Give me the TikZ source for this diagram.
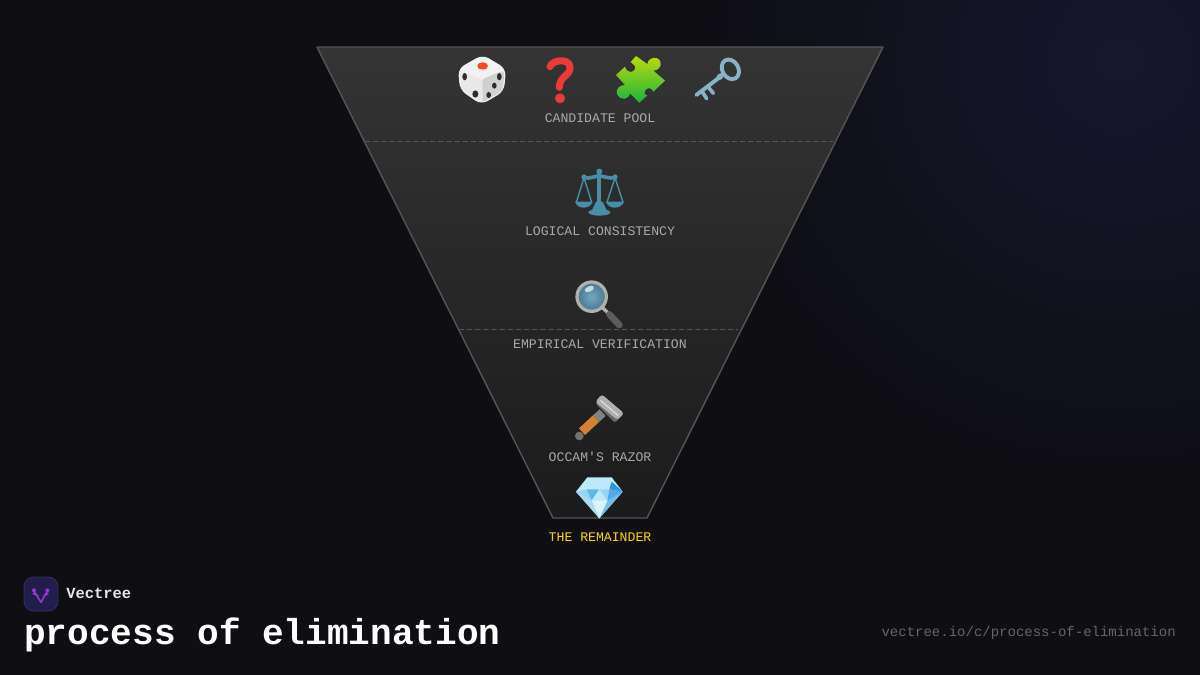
\documentclass[tikz,border=0pt]{standalone}
\usepackage{fontspec}
\setmonofont{Liberation Mono}
\definecolor{FondoPage}{RGB}{14,14,19}
\definecolor{FondoBlue}{RGB}{22,23,46}
\definecolor{FunnelTop}{RGB}{52,52,52}
\definecolor{FunnelBottom}{RGB}{27,27,27}
\definecolor{FunnelEdge}{RGB}{85,85,85}
\definecolor{LabelGray}{RGB}{170,170,170}
\definecolor{LabelGold}{RGB}{255,215,0}
\definecolor{UrlGray}{RGB}{102,102,102}
\definecolor{SteelBlue}{RGB}{72,142,168}
\definecolor{KeyBlue}{RGB}{135,180,196}
\definecolor{RedMark}{RGB}{236,58,56}
\definecolor{PipRed}{RGB}{244,71,30}
\definecolor{PipDark}{RGB}{45,45,45}
\definecolor{PuzzleLime}{RGB}{185,218,15}
\definecolor{PuzzleGreen}{RGB}{30,180,60}
\definecolor{LensBlue}{RGB}{92,152,180}
\definecolor{RimGray}{RGB}{176,176,176}
\definecolor{HandleGray}{RGB}{92,92,92}
\definecolor{WoodOrange}{RGB}{214,128,52}
\definecolor{BladeGray}{RGB}{175,175,175}
\definecolor{GemPale}{RGB}{190,233,251}
\definecolor{GemSky}{RGB}{150,212,246}
\definecolor{GemMid}{RGB}{98,180,238}
\definecolor{GemDeep}{RGB}{42,151,222}
\definecolor{GemIce}{RGB}{216,244,255}
\definecolor{GemAqua}{RGB}{181,236,248}
\definecolor{LogoFill}{RGB}{34,30,76}
\definecolor{LogoEdge}{RGB}{52,47,100}
\definecolor{LogoPurple}{RGB}{150,55,205}
\tikzset{
  steplabel/.style={font=\ttfamily\fontsize{9.35}{11}\selectfont,text=LabelGray,inner sep=0pt},
  sepline/.style={FunnelEdge,line width=0.6pt,dash pattern=on 3.4pt off 2.4pt},
  iconcrop/.style 2 args={shift={(#1,#2)},scale=1/3}
}
\begin{document}
\begin{tikzpicture}[x=0.025cm,y=-0.025cm,line cap=round,line join=round]
  \useasboundingbox (0,0) rectangle (1200,675);
  \clip (0,0) rectangle (1200,675);
  \fill[FondoPage] (0,0) rectangle (1200,675);
  \shade[inner color=FondoBlue,outer color=FondoPage] (1120,60) circle (420);

  \shade[top color=FunnelTop,bottom color=FunnelBottom] (317,47) -- (883,47) -- (647,518) -- (553,518) -- cycle;
  \draw[FunnelEdge,line width=1pt] (317,47) -- (883,47) -- (647,518) -- (553,518) -- cycle;
  \draw[sepline] (365,141) -- (833,141);
  \draw[sepline] (459,329.5) -- (738,329.5);

  \begin{scope}[iconcrop={452}{50}]
    \fill[white!95!black,rounded corners=5pt] (92,14) -- (162,56) -- (156,124) -- (88,164) -- (24,120) -- (18,56) -- cycle;
    \fill[white!82!black,rounded corners=3pt] (88,88) -- (158,60) -- (152,122) -- (88,160) -- cycle;
    \fill[white!91!black,rounded corners=3pt] (92,88) -- (22,60) -- (28,118) -- (92,160) -- cycle;
    \fill[PipRed] (92,48) ellipse (16 and 11);
    \fill[PipDark] (38,80) ellipse (7 and 11) (70,132) ellipse (9 and 11);
    \fill[PipDark] (142,80) ellipse (7 and 11) (127,107) ellipse (7 and 9) (110,135) ellipse (7 and 9);
  \end{scope}

  \begin{scope}[iconcrop={530}{50}]
    \draw[RedMark,line width=5pt] (60,50) .. controls (68,28) and (118,25) .. (120,50) .. controls (122,78) and (88,78) .. (88,112);
    \fill[RedMark] (90,145) circle (15);
  \end{scope}

  \begin{scope}[iconcrop={610}{50}]
    \shade[top color=PuzzleLime,bottom color=PuzzleGreen] (78,18) -- (112,42)
      .. controls (112,28) and (130,20) .. (142,25) .. controls (160,35) and (155,60) .. (130,62)
      -- (165,92) -- (130,125) .. controls (125,108) and (102,112) .. (104,132) -- (112,136) -- (88,158) -- (60,130)
      .. controls (56,150) and (32,152) .. (22,135) .. controls (14,118) and (30,104) .. (45,105)
      -- (18,75) -- (45,50) .. controls (50,72) and (78,72) .. (75,48) -- (62,36) -- cycle;
  \end{scope}

  \begin{scope}[iconcrop={688}{50}]
    \draw[KeyBlue,line width=2.8pt,rotate around={-60:(127,58)}] (127,58) ellipse (31 and 24);
    \draw[KeyBlue,line width=2.8pt] (100,78) -- (25,135);
    \fill[KeyBlue,rotate around={40:(96,80)}] (96,80) ellipse (12 and 9);
    \draw[KeyBlue,line width=2.6pt] (60,110) -- (76,130) (42,124) -- (56,146);
  \end{scope}

  \begin{scope}[iconcrop={570}{165}]
    \draw[SteelBlue,line width=3pt] (88,25) -- (88,125);
    \draw[SteelBlue,line width=2.6pt] (42,38) .. controls (60,42) and (75,33) .. (88,33) .. controls (101,33) and (116,42) .. (135,38);
    \fill[SteelBlue] (88,20) circle (9) (42,36) circle (8) (135,36) circle (8);
    \draw[SteelBlue,line width=1pt] (42,38) -- (19,112) (42,38) -- (65,112) (135,38) -- (111,112) (135,38) -- (159,112);
    \fill[SteelBlue] (15,110) .. controls (22,134) and (60,134) .. (68,110) -- cycle;
    \fill[SteelBlue] (108,110) .. controls (115,134) and (154,134) .. (162,110) -- cycle;
    \fill[SteelBlue] (78,110) -- (98,110) -- (110,136) -- (66,136) -- cycle;
    \fill[SteelBlue] (88,142) ellipse (33 and 10);
  \end{scope}

  \begin{scope}[iconcrop={570}{275}]
    \draw[RimGray,line width=2.4pt,line cap=butt] (98,98) -- (115,115);
    \draw[HandleGray,line width=4.7pt] (118,118) -- (148,150);
    \shade[inner color=LensBlue!85!white,outer color=LensBlue!80!black] (65,65) circle (42);
    \draw[RimGray,line width=2.3pt] (65,65) circle (44);
    \fill[white!65!LensBlue,rotate around={25:(58,42)}] (58,42) ellipse (15 and 8);
  \end{scope}

  \begin{scope}[iconcrop={570}{390}]
    \draw[WoodOrange,line width=6.4pt,line cap=butt] (78,86) -- (36,125);
    \fill[BladeGray!65!black] (28,138) circle (13);
    \draw[BladeGray!75!black,line width=6.4pt,line cap=butt] (98,68) -- (78,86);
    \fill[BladeGray!60!black,rounded corners=2pt] (95,13) -- (162,70) -- (135,99) -- (76,40) -- cycle;
    \fill[BladeGray,rounded corners=2pt] (95,13) -- (162,70) -- (142,90) -- (76,36) -- cycle;
    \draw[white!88!black,line width=0.8pt] (92,32) -- (144,76);
  \end{scope}

  \begin{scope}[iconcrop={570}{470}]
    \fill[GemPale] (52,22) -- (125,22) -- (158,65) -- (88,145) -- (18,65) -- cycle;
    \fill[GemDeep] (125,35) -- (158,65) -- (118,58) -- cycle;
    \fill[GemSky] (18,65) -- (50,58) -- (65,92) -- cycle;
    \fill[GemMid] (50,58) -- (88,58) -- (65,92) -- cycle;
    \fill[GemSky] (88,58) -- (118,58) -- (112,92) -- cycle;
    \fill[GemAqua] (88,58) -- (65,92) -- (112,92) -- cycle;
    \fill[GemMid!70!GemSky] (158,65) -- (112,92) -- (88,145) -- cycle;
    \fill[GemMid!70!GemDeep] (118,58) -- (158,65) -- (112,92) -- cycle;
    \fill[GemIce] (65,92) -- (112,92) -- (88,145) -- cycle;
    \fill[GemMid!40!GemIce] (18,65) -- (65,92) -- (88,145) -- cycle;
  \end{scope}

  \node[steplabel] (poollabel) at (600,118) {CANDIDATE POOL};
  \node[steplabel] (logiclabel) at (600,231) {LOGICAL CONSISTENCY};
  \node[steplabel] (empiricallabel) at (600,344) {EMPIRICAL VERIFICATION};
  \node[steplabel] (razorlabel) at (600,457) {OCCAM'S RAZOR};
  \node[steplabel,text=LabelGold] (remainderlabel) at (600,537) {THE REMAINDER};

  \fill[LogoFill,draw=LogoEdge,line width=0.6pt,rounded corners=7pt] (24,577) rectangle (58,611);
  \begin{scope}[iconcrop={10}{565}]
    \draw[LogoPurple,line width=1.1pt] (93,112) -- (72,78) (93,112) -- (112,78) (70,86) -- (84,92) (114,86) -- (102,92);
    \fill[LogoPurple] (72,76) circle (6) (112,76) circle (6);
  \end{scope}
  \node[font=\ttfamily\bfseries\fontsize{11}{13}\selectfont,text=white!90!black,anchor=west,inner sep=0pt] (brandname) at (66,593) {Vectree};
  \node[font=\ttfamily\bfseries\fontsize{25.65}{30}\selectfont,text=white,anchor=base west,inner sep=0pt] (pagetitle) at (24,644) {process of elimination};
  \node[font=\ttfamily\fontsize{9.96}{12}\selectfont,text=UrlGray,anchor=east,inner sep=0pt] (pageurl) at (1176,633) {vectree.io/c/process-of-elimination};
\end{tikzpicture}
\end{document}
